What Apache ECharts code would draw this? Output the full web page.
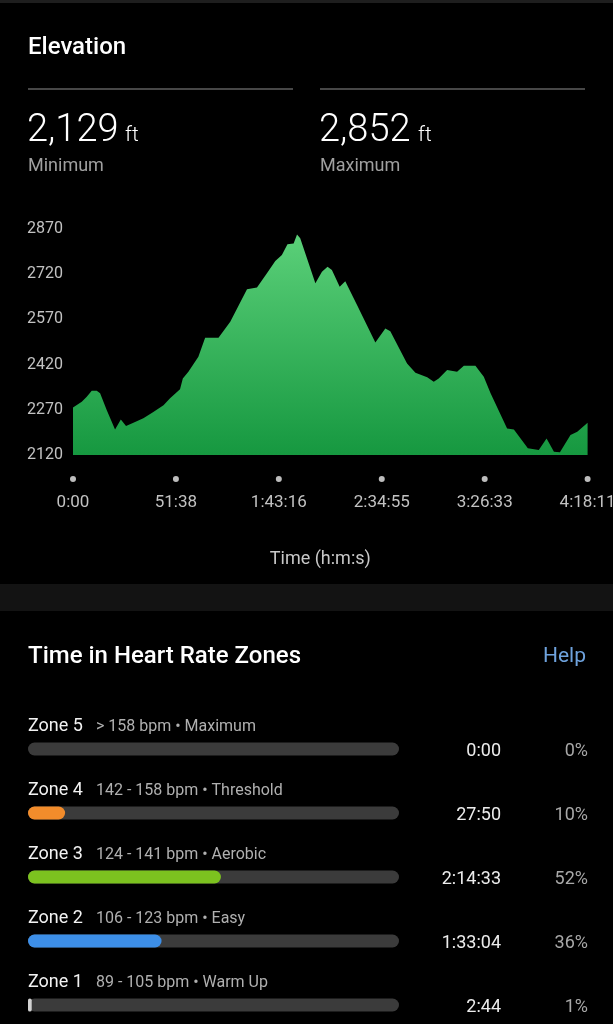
<!DOCTYPE html>
<html>
<head>
<meta charset="utf-8">
<title>Elevation / Heart Rate Zones</title>
<script src="https://cdn.jsdelivr.net/npm/echarts@6/dist/echarts.min.js"></script>
<style>
html,body{margin:0;padding:0;background:#000;}
#main{width:613px;height:1024px;}
</style>
</head>
<body>
<div id="main"></div>
<script>
// elevation profile (elapsed minutes -> feet)
var elevMinutes = [0, 4.4, 6.9, 9.4, 11.9, 13.6, 16.9, 21.1, 24.0, 26.6,
    30.3, 35.3, 40.3, 45.4, 48.7, 53.7, 55.1, 57.9, 62.9, 66.3,
    73.0, 78.9, 87.3, 92.3, 97.3, 101.5, 104.8, 107.6, 110.7, 112.4,
    114.0, 121.6, 124.9, 127.7, 129.9, 133.8, 136.6, 142.5, 151.7, 156.7,
    159.2, 167.6, 171.8, 177.7, 181.0, 183.5, 187.7, 192.7, 196.1, 201.9,
    206.1, 209.5, 217.8, 221.2, 228.2, 233.7, 237.6, 241.3, 244.3, 249.6, 253.0, 258.18];
var elevFeet = [2278, 2297, 2313, 2333, 2333, 2325, 2269, 2205, 2238, 2216,
    2227, 2242, 2263, 2285, 2308, 2338, 2374, 2396, 2446, 2509,
    2509, 2562, 2670, 2676, 2723, 2764, 2784, 2819, 2822, 2852,
    2839, 2690, 2728, 2745, 2734, 2678, 2697, 2618, 2493, 2540,
    2531, 2424, 2393, 2378, 2363, 2374, 2402, 2396, 2416, 2416,
    2380, 2325, 2208, 2205, 2142, 2137, 2175, 2131, 2129, 2186, 2197, 2227];
var elevMin = 2129;
var elevMax = 2852;
var elevTicks = [2120, 2270, 2420, 2570, 2720, 2870];
var timeTickLabels = ['0:00', '51:38', '1:43:16', '2:34:55', '3:26:33', '4:18:11'];

// heart rate zones
var zoneNames = ['Zone 5', 'Zone 4', 'Zone 3', 'Zone 2', 'Zone 1'];
var zoneRanges = ['> 158 bpm \u2022 Maximum', '142 - 158 bpm \u2022 Threshold', '124 - 141 bpm \u2022 Aerobic',
    '106 - 123 bpm \u2022 Easy', '89 - 105 bpm \u2022 Warm Up'];
var zoneTimes = ['0:00', '27:50', '2:14:33', '1:33:04', '2:44'];
var zonePercents = [0, 10, 52, 36, 1];
var zoneColors = ['#e2403a', '#f28c2b', '#7cc21f', '#3d8fe8', '#d2d2d2'];

function hmsToMin(s) {
    var secs = s.split(':').map(Number).reduce(function (a, p) { return a * 60 + p; }, 0);
    return secs / 60;
}
function pad(n) { return n < 10 ? '0' + n : '' + n; }
function minToHms(v) {
    var t = Math.round(v * 60);
    var h = Math.floor(t / 3600), m = Math.floor((t % 3600) / 60), s = t % 60;
    return h > 0 ? h + ':' + pad(m) + ':' + pad(s) : m + ':' + pad(s);
}
function withCommas(n) { return String(n).replace(/\B(?=(\d{3})+(?!\d))/g, ','); }

var chart = echarts.init(document.getElementById('main'));
var font = 'Roboto, "Noto Sans", sans-serif';

var elevData = elevMinutes.map(function (m, i) { return [m, elevFeet[i]]; });
var zoneData = zonePercents.map(function (p, i) {
    return {value: p, itemStyle: {color: zoneColors[i]}};
});

var option = {
    backgroundColor: '#000',
    animation: false,
    textStyle: {fontFamily: font},
    grid: [
        {left: 73, top: 229, width: 514.6, height: 226, outerBoundsMode: 'none'},
        {left: 28, top: 717, width: 371, height: 320, outerBoundsMode: 'none'}
    ],
    xAxis: [{
        type: 'value',
        gridIndex: 0,
        min: 0,
        max: hmsToMin(timeTickLabels[timeTickLabels.length - 1]),
        axisLine: {show: false},
        axisTick: {show: false},
        splitLine: {show: false},
        axisLabel: {
            customValues: timeTickLabels.map(hmsToMin),
            margin: 18,
            hideOverlap: false,
            formatter: function (v) { return '{d| }\n{t|' + minToHms(v) + '}'; },
            rich: {
                d: {width: 6, height: 6, borderRadius: 3, backgroundColor: '#bdbdbd', lineHeight: 12},
                t: {fontSize: 17, color: '#c2c2c2', lineHeight: 36, fontFamily: font}
            }
        },
        name: 'Time (h:m:s)',
        nameLocation: 'middle',
        nameGap: 95,
        nameTextStyle: {color: '#c8c8c8', fontSize: 18, padding: [0, 20, 0, 0]}
    }, {
        type: 'value',
        gridIndex: 1,
        min: 0,
        max: 100,
        show: false
    }],
    yAxis: [{
        type: 'value',
        gridIndex: 0,
        min: elevTicks[0],
        max: elevTicks[elevTicks.length - 1],
        axisLine: {show: false},
        axisTick: {show: false},
        splitLine: {show: false},
        axisLabel: {
            customValues: elevTicks,
            formatter: function (v) { return String(v); },
            color: '#c2c2c2',
            fontSize: 16,
            margin: 10
        }
    }, {
        type: 'category',
        gridIndex: 1,
        inverse: true,
        data: zoneNames,
        show: false
    }, {
        type: 'category',
        gridIndex: 1,
        inverse: true,
        position: 'right',
        data: zoneNames,
        axisLine: {show: false},
        axisTick: {show: false},
        axisLabel: {
            interval: 0,
            margin: 2,
            formatter: function (v, i) {
                return '{t|' + zoneTimes[i] + '}{p|' + zonePercents[i] + '%}';
            },
            rich: {
                t: {width: 100, align: 'right', fontSize: 18, color: '#ececec', padding: [5, 0, 0, 0], fontFamily: font},
                p: {width: 87, align: 'right', fontSize: 18, color: '#a8a8a8', padding: [5, 0, 0, 0], fontFamily: font}
            }
        }
    }],
    series: [{
        type: 'line',
        xAxisIndex: 0,
        yAxisIndex: 0,
        data: elevData,
        showSymbol: false,
        lineStyle: {width: 0},
        areaStyle: {
            opacity: 1,
            color: new echarts.graphic.LinearGradient(0, 0, 0, 1, [
                {offset: 0, color: '#5bd079'},
                {offset: 1, color: '#169840'}
            ])
        }
    }, {
        type: 'bar',
        xAxisIndex: 1,
        yAxisIndex: 1,
        data: zoneData,
        barWidth: 13,
        itemStyle: {borderRadius: 6.5},
        showBackground: true,
        backgroundStyle: {color: '#3b3b3b', borderRadius: 6.5},
        label: {
            show: true,
            position: [0, -16],
            align: 'left',
            verticalAlign: 'middle',
            formatter: function (p) {
                return '{z|' + zoneNames[p.dataIndex] + '}{r|' + zoneRanges[p.dataIndex] + '}';
            },
            rich: {
                z: {fontSize: 18, color: '#f2f2f2', fontFamily: font},
                r: {fontSize: 16, color: '#b0b0b0', padding: [0, 0, 0, 13], fontFamily: font}
            }
        }
    }],
    graphic: [
        {type: 'rect', shape: {x: 0, y: 0, width: 613, height: 3}, style: {fill: '#1e1e1e'}},
        {type: 'text', x: 28, y: 48, style: {text: 'Elevation', fill: '#fff', font: '500 24px ' + font, textVerticalAlign: 'middle'}},
        {type: 'line', shape: {x1: 28, y1: 89, x2: 293, y2: 89}, style: {stroke: '#474747', lineWidth: 2}},
        {type: 'line', shape: {x1: 320, y1: 89, x2: 585, y2: 89}, style: {stroke: '#474747', lineWidth: 2}},
        {type: 'text', x: 27, y: 131, style: {text: withCommas(elevMin), fill: '#fff', font: '300 38px ' + font, textVerticalAlign: 'middle'}},
        {type: 'text', x: 125, y: 136, style: {text: 'ft', fill: '#fff', font: '300 21px ' + font, textVerticalAlign: 'middle'}},
        {type: 'text', x: 28, y: 166, style: {text: 'Minimum', fill: '#a0a0a0', font: '18px ' + font, textVerticalAlign: 'middle'}},
        {type: 'text', x: 319, y: 131, style: {text: withCommas(elevMax), fill: '#fff', font: '300 38px ' + font, textVerticalAlign: 'middle'}},
        {type: 'text', x: 418, y: 136, style: {text: 'ft', fill: '#fff', font: '300 21px ' + font, textVerticalAlign: 'middle'}},
        {type: 'text', x: 320, y: 166, style: {text: 'Maximum', fill: '#a0a0a0', font: '18px ' + font, textVerticalAlign: 'middle'}},
        {type: 'rect', shape: {x: 0, y: 584, width: 613, height: 27}, style: {fill: '#131313'}},
        {type: 'text', x: 28, y: 657, style: {text: 'Time in Heart Rate Zones', fill: '#fff', font: '500 24px ' + font, textVerticalAlign: 'middle'}},
        {type: 'text', x: 586, y: 657, style: {text: 'Help', fill: '#6fa3de', font: '21px ' + font, textAlign: 'right', textVerticalAlign: 'middle'}}
    ]
};

chart.setOption(option);
</script>
</body>
</html>
